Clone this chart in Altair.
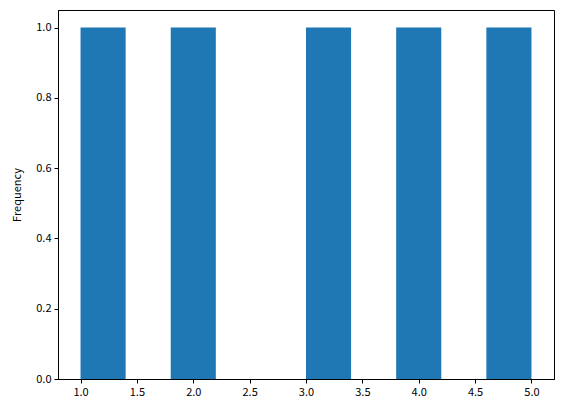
import altair as alt
import pandas as pd
import numpy as np

# Raw values of the histogram (matplotlib default: 10 bins)
values = [1, 2, 3, 4, 5]
counts, edges = np.histogram(values, bins=10)
bin_start = [float(e) for e in edges[:-1]]
bin_end = [float(e) for e in edges[1:]]
freq = [int(c) for c in counts]

x_ticks = [1.0, 1.5, 2.0, 2.5, 3.0, 3.5, 4.0, 4.5, 5.0]
y_ticks = [0.0, 0.2, 0.4, 0.6, 0.8, 1.0]

df = pd.DataFrame({"start": bin_start, "end": bin_end, "count": freq})

font = "Noto Sans CJK SC"

chart = alt.Chart(df).mark_bar(color="#1f77b4", strokeWidth=0).encode(
    x=alt.X("start:Q",
            scale=alt.Scale(domain=[0.8, 5.2], nice=False, zero=False),
            axis=alt.Axis(values=x_ticks, format=".1f", title=None, grid=False,
                          tickSize=4, tickColor="black", domainColor="black",
                          labelColor="black", labelFontSize=11, labelFont=font,
                          labelPadding=3)),
    x2="end:Q",
    y=alt.Y("count:Q",
            scale=alt.Scale(domain=[0, 1.05], nice=False),
            axis=alt.Axis(values=y_ticks, format=".1f", title="Frequency", grid=False,
                          tickSize=4, tickColor="black", domainColor="black",
                          labelColor="black", labelFontSize=11, labelFont=font,
                          labelPadding=3, titleFont=font, titleFontSize=11,
                          titleFontWeight="normal", titleColor="black", titlePadding=13)),
    y2=alt.datum(0),
).properties(
    width=496, height=369,
    autosize=alt.AutoSizeParams(type="none"),
    padding={"left": 50, "top": 2, "right": 2, "bottom": 24},
).configure_view(stroke="black", strokeWidth=1)

chart.save("out.html", embed_options={"renderer": "svg", "actions": False})
